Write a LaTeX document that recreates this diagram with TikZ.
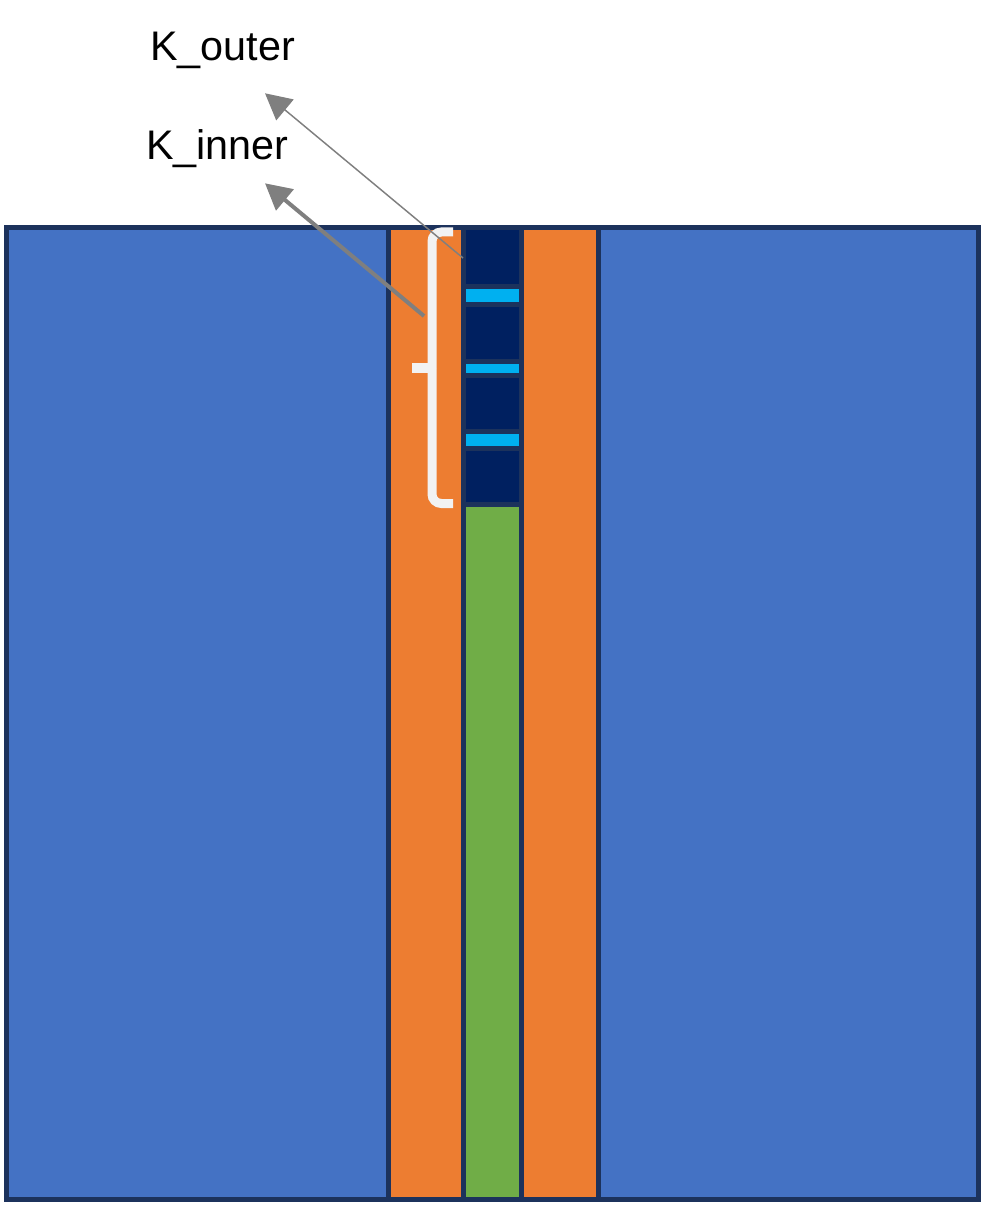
\documentclass[tikz,border=0pt]{standalone}
\usepackage{fontspec}
\setmainfont{Liberation Sans}
\usetikzlibrary{arrows.meta}
\definecolor{bulk}{RGB}{68,114,196}
\definecolor{liner}{RGB}{237,125,49}
\definecolor{core}{RGB}{112,173,71}
\definecolor{plug}{RGB}{0,32,96}
\definecolor{gap}{RGB}{0,176,240}
\definecolor{edge}{RGB}{28,50,92}
\definecolor{pointer}{RGB}{127,127,127}
\definecolor{bracec}{RGB}{242,242,242}
\tikzset{
  block/.style={draw=edge, line width=3.75pt},
  klabel/.style={anchor=base, font=\fontsize{31}{37}\selectfont},
  kbrace/.style={draw=bracec, line width=6.75pt},
}

\begin{document}
\begin{tikzpicture}[x=0.75pt, y=-0.75pt]
  \useasboundingbox (0,0) rectangle (985,1205);

  % ---------- bulk and liners ----------
  \draw[block, fill=bulk]  (6.5,227.5) rectangle (388,1199.5);
  \draw[block, fill=liner] (388,227.5) rectangle (463.5,1199.5);
  \draw[block, fill=liner] (521,227.5) rectangle (598,1199.5);
  \draw[block, fill=bulk]  (598,227.5) rectangle (978.5,1199.5);

  % ---------- column stack ----------
  \foreach \top/\bot/\col in {227.5/286.5/plug, 286.5/304.2/gap, 304.2/361.5/plug,
      361.5/375.7/gap, 375.7/431.5/plug, 431.5/448.5/gap, 448.5/504.7/plug,
      504.7/1199.5/core}{
    \draw[block, fill=\col] (463.5,\top) rectangle (521,\bot);}

  % ---------- brace ----------
  \draw[kbrace, rounded corners=7pt] (453,232) -- (432,232) -- (432,368);
  \draw[kbrace, rounded corners=7pt] (432,368) -- (432,503.5) -- (453,503.5);
  \draw[draw=bracec, line width=7.5pt] (412,368) -- (436,368);

  % ---------- labels ----------
  \node[klabel] (outer label) at (222.5,61)  {K\_outer};
  \node[klabel] (inner label) at (217.5,160) {K\_inner};
  \coordinate (outer tail) at (463,258);
  \coordinate (outer tip)  at (265,93.3);
  \coordinate (inner tail) at (424,316);
  \coordinate (inner tip)  at (265,183.3);
  \draw[pointer, line width=1.1pt, -{Triangle[length=19.5pt, width=20.25pt]}] (outer tail) -- (outer tip);
  \draw[pointer, line width=3pt, -{Triangle[length=19.5pt, width=20.25pt]}] (inner tail) -- (inner tip);

\end{tikzpicture}
\end{document}
